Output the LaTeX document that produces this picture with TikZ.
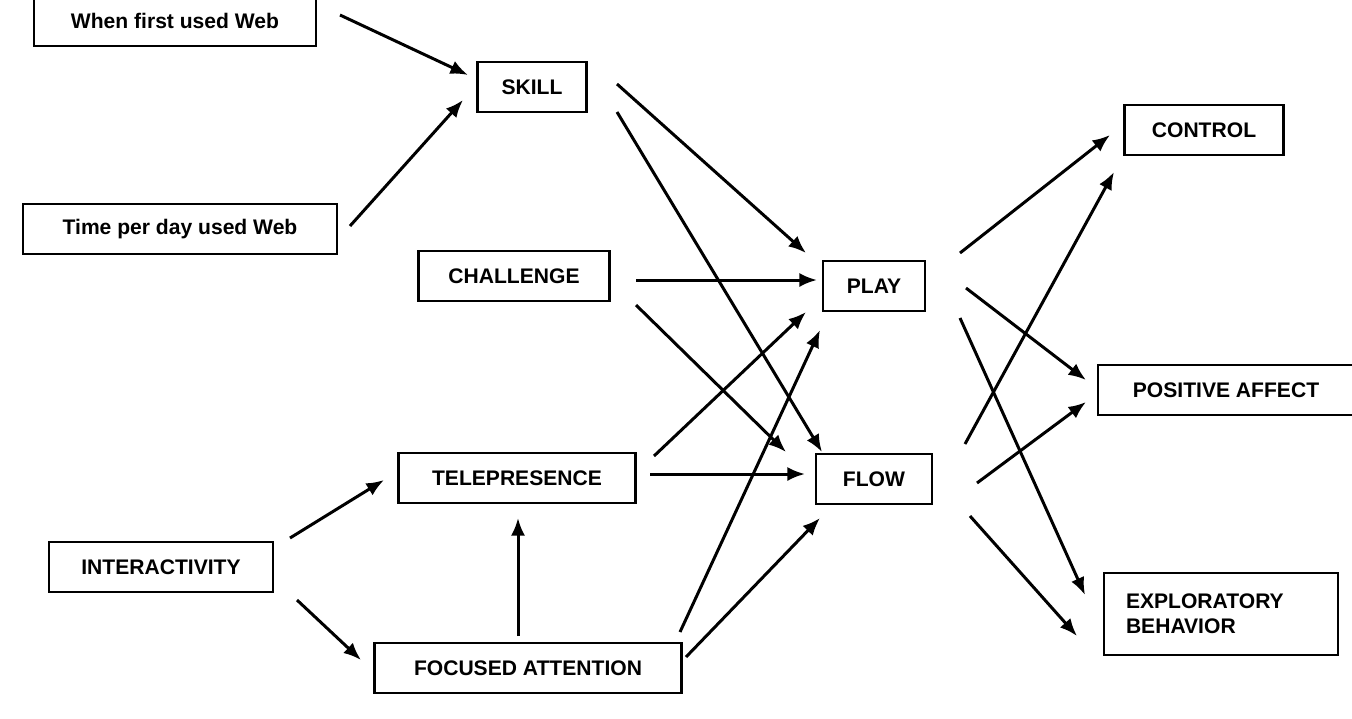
\documentclass[tikz,border=0pt]{standalone}
\usepackage{fontspec}
\setmainfont{Liberation Sans}
\usetikzlibrary{arrows.meta}
\begin{document}
\begin{tikzpicture}[x=0.02cm,y=-0.02cm,
 box/.style={draw,line width=1.6pt,font=\bfseries\fontsize{12}{14}\selectfont,inner sep=0pt,minimum height=50*0.02cm},
 arr/.style={line width=1.7pt,-{Latex[length=10pt,width=8pt]}}]
\useasboundingbox (0,0) rectangle (1352,718);
\node[box,minimum width=282*0.02cm] (wf) at (175,21) {When first used Web};
\node[box,minimum width=109*0.02cm] (sk) at (532,87) {SKILL};
\node[box,minimum width=314*0.02cm] (tp) at (180,229) {Time per day used Web};
\node[box,minimum width=191*0.02cm] (ch) at (514,276) {CHALLENGE};
\node[box,minimum width=102*0.02cm] (pl) at (874,286) {PLAY};
\node[box,minimum width=159*0.02cm] (co) at (1204,130) {CONTROL};
\node[box,minimum width=256*0.02cm] (pa) at (1226,390) {POSITIVE AFFECT};
\node[box,minimum width=237*0.02cm] (te) at (517,478) {TELEPRESENCE};
\node[box,minimum width=116*0.02cm] (fl) at (874,479) {FLOW};
\node[box,minimum width=224*0.02cm] (in) at (161,567) {INTERACTIVITY};
\node[box,minimum width=307*0.02cm] (fa) at (528,668) {FOCUSED ATTENTION};
\node[box,minimum width=234*0.02cm,minimum height=82*0.02cm,align=left,text width=190*0.02cm] (ex) at (1221,614) {EXPLORATORY\\BEHAVIOR};
\draw[arr] (340,15)--(468,75);
\draw[arr] (350,226)--(463,100);
\draw[arr] (617,84)--(806,253);
\draw[arr] (617,112)--(822,452);
\draw[arr] (636,280)--(817,280);
\draw[arr] (636,305)--(786,452);
\draw[arr] (654,456)--(806,312);
\draw[arr] (650,474)--(805,474);
\draw[arr] (680,632)--(820,330);
\draw[arr] (686,657)--(820,518);
\draw[arr] (518,636)--(518,518);
\draw[arr] (290,538)--(384,480);
\draw[arr] (297,600)--(361,660);
\draw[arr] (960,253)--(1110,135);
\draw[arr] (965,444)--(1114,172);
\draw[arr] (966,288)--(1086,380);
\draw[arr] (977,483)--(1086,402);
\draw[arr] (960,318)--(1085,595);
\draw[arr] (970,516)--(1077,636);
\end{tikzpicture}
\end{document}
